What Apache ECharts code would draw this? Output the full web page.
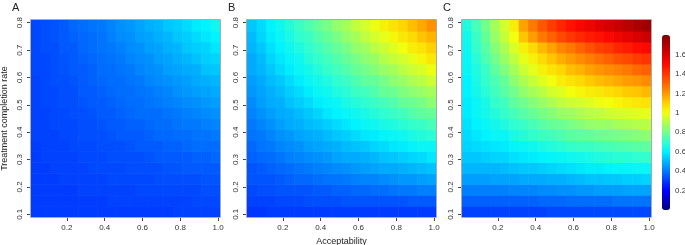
<!DOCTYPE html>
<html>
<head>
<meta charset="utf-8">
<script src="https://cdn.jsdelivr.net/npm/echarts@6/dist/echarts.min.js"></script>
<style>
  html, body { margin: 0; padding: 0; background: #fff; }
  #chart { width: 685px; height: 245px; }
</style>
</head>
<body>
<div id="chart"></div>
<script>
// cell centres (x: acceptability, y: treatment completion rate)
const xCenters = [0.035, 0.085, 0.135, 0.185, 0.235, 0.285, 0.335, 0.385, 0.435, 0.485,
                  0.535, 0.585, 0.635, 0.685, 0.735, 0.785, 0.835, 0.885, 0.935, 0.985];
const yCenters = [0.11, 0.15, 0.19, 0.23, 0.27, 0.31, 0.35, 0.39, 0.43, 0.47,
                  0.51, 0.55, 0.59, 0.63, 0.67, 0.71, 0.75, 0.79];

const xTicks = [0.2, 0.4, 0.6, 0.8, 1.0];
const yTicks = [0.1, 0.2, 0.3, 0.4, 0.5, 0.6, 0.7, 0.8];
const barTicks = [0.2, 0.4, 0.6, 0.8, 1, 1.2, 1.4, 1.6];

// rows from bottom (y = 0.11) to top (y = 0.79)
const panelA = [
  [.30,.30,.30,.30,.30,.30,.30,.30,.30,.30,.30,.30,.30,.30,.30,.31,.31,.31,.31,.31],
  [.30,.30,.30,.30,.30,.30,.30,.30,.31,.31,.31,.31,.31,.31,.31,.31,.31,.32,.32,.32],
  [.30,.30,.30,.30,.30,.31,.31,.31,.31,.31,.31,.32,.32,.32,.32,.32,.32,.32,.33,.33],
  [.30,.30,.30,.31,.31,.31,.31,.31,.32,.32,.32,.32,.32,.33,.33,.33,.33,.33,.34,.34],
  [.30,.30,.31,.31,.31,.31,.32,.32,.32,.32,.33,.33,.33,.33,.34,.34,.35,.35,.35,.35],
  [.30,.31,.31,.31,.31,.32,.32,.32,.33,.33,.33,.33,.34,.35,.35,.35,.35,.36,.36,.37],
  [.30,.31,.31,.31,.32,.32,.32,.33,.33,.33,.34,.35,.35,.35,.36,.36,.37,.38,.38,.38],
  [.31,.31,.31,.32,.32,.33,.33,.33,.34,.35,.35,.35,.36,.37,.37,.38,.38,.39,.39,.40],
  [.31,.31,.32,.32,.32,.33,.33,.34,.35,.35,.36,.36,.37,.38,.38,.39,.40,.40,.41,.42],
  [.31,.31,.32,.32,.33,.33,.34,.35,.35,.36,.37,.38,.38,.38,.39,.40,.41,.42,.43,.44],
  [.31,.32,.32,.33,.33,.34,.35,.35,.36,.37,.38,.38,.39,.40,.41,.42,.43,.44,.45,.46],
  [.31,.32,.32,.33,.33,.35,.35,.36,.37,.38,.38,.39,.40,.41,.42,.44,.45,.46,.47,.48],
  [.31,.32,.33,.33,.34,.35,.36,.37,.38,.38,.39,.40,.42,.43,.44,.45,.46,.48,.49,.50],
  [.32,.32,.33,.34,.35,.35,.36,.38,.38,.39,.40,.42,.43,.44,.46,.47,.48,.49,.52,.53],
  [.32,.32,.33,.34,.35,.36,.37,.38,.39,.40,.42,.43,.44,.46,.47,.49,.50,.52,.54,.55],
  [.32,.33,.33,.35,.35,.37,.38,.39,.40,.41,.43,.44,.46,.47,.49,.50,.53,.54,.55,.58],
  [.32,.33,.34,.35,.36,.37,.38,.39,.41,.43,.44,.46,.47,.49,.50,.53,.54,.56,.58,.60],
  [.32,.33,.34,.35,.37,.38,.39,.40,.42,.44,.45,.47,.49,.50,.53,.54,.56,.59,.60,.63]
];

const panelB = [
  [.29,.29,.30,.30,.30,.30,.30,.30,.30,.30,.30,.30,.30,.30,.30,.30,.30,.30,.30,.30],
  [.31,.31,.31,.32,.32,.32,.33,.33,.33,.33,.34,.34,.34,.34,.34,.34,.34,.35,.35,.35],
  [.32,.33,.33,.34,.34,.34,.34,.35,.35,.36,.36,.37,.37,.38,.38,.39,.40,.40,.41,.41],
  [.34,.34,.34,.35,.36,.37,.37,.38,.39,.39,.40,.41,.42,.42,.43,.44,.45,.45,.46,.47],
  [.34,.35,.36,.37,.38,.39,.40,.41,.42,.43,.44,.45,.46,.47,.48,.48,.49,.50,.51,.52],
  [.36,.37,.38,.39,.41,.42,.43,.44,.45,.47,.48,.48,.49,.50,.52,.53,.54,.55,.56,.58],
  [.37,.39,.40,.42,.43,.44,.46,.47,.48,.49,.51,.52,.53,.55,.56,.58,.59,.61,.62,.62],
  [.39,.40,.42,.44,.45,.47,.48,.49,.51,.53,.54,.56,.58,.59,.61,.62,.63,.65,.67,.68],
  [.40,.42,.44,.46,.48,.49,.51,.52,.54,.56,.58,.60,.62,.63,.65,.66,.68,.70,.71,.73],
  [.42,.44,.46,.48,.49,.51,.53,.55,.58,.60,.62,.63,.65,.67,.69,.71,.72,.75,.77,.78],
  [.43,.46,.48,.49,.52,.54,.56,.59,.61,.62,.65,.67,.69,.71,.73,.75,.78,.79,.81,.84],
  [.45,.47,.49,.51,.54,.56,.59,.62,.63,.66,.68,.71,.72,.75,.78,.79,.82,.84,.86,.88],
  [.46,.48,.51,.53,.56,.59,.62,.64,.66,.69,.71,.74,.77,.78,.81,.84,.86,.89,.91,.94],
  [.48,.50,.53,.56,.59,.62,.64,.67,.70,.72,.75,.78,.80,.83,.86,.88,.91,.94,.96,.99],
  [.48,.51,.55,.58,.61,.63,.67,.70,.72,.75,.78,.81,.84,.86,.90,.93,.95,.98,1.02,1.05],
  [.50,.53,.57,.60,.63,.66,.69,.72,.75,.78,.81,.85,.87,.91,.94,.97,1.00,1.04,1.06,1.10],
  [.51,.55,.59,.62,.65,.69,.71,.75,.78,.81,.85,.88,.92,.95,.98,1.02,1.05,1.08,1.12,1.15],
  [.53,.56,.60,.63,.67,.71,.74,.78,.81,.85,.88,.92,.95,.99,1.03,1.06,1.09,1.13,1.17,1.21]
];

const panelC = [
  [.31,.31,.31,.31,.31,.31,.31,.31,.31,.32,.32,.32,.32,.32,.32,.32,.32,.32,.32,.32],
  [.36,.36,.36,.36,.36,.36,.36,.36,.37,.37,.37,.38,.38,.38,.38,.38,.39,.39,.39,.39],
  [.41,.41,.41,.41,.41,.42,.42,.42,.43,.43,.44,.44,.45,.45,.46,.46,.46,.47,.47,.47],
  [.46,.46,.46,.47,.47,.47,.48,.48,.48,.49,.49,.50,.51,.52,.52,.53,.53,.54,.54,.55],
  [.50,.50,.50,.50,.51,.52,.53,.53,.54,.55,.56,.57,.58,.59,.59,.60,.61,.61,.62,.62],
  [.53,.53,.54,.55,.55,.57,.58,.59,.60,.61,.62,.63,.64,.65,.66,.67,.68,.68,.69,.70],
  [.55,.56,.57,.58,.59,.61,.62,.63,.65,.67,.68,.70,.71,.71,.72,.73,.74,.75,.76,.77],
  [.56,.58,.60,.62,.62,.65,.67,.69,.71,.72,.74,.76,.77,.78,.79,.80,.81,.82,.83,.84],
  [.57,.60,.62,.64,.66,.69,.71,.73,.76,.78,.79,.81,.83,.85,.86,.86,.88,.89,.90,.91],
  [.59,.62,.64,.67,.70,.73,.76,.78,.81,.83,.86,.87,.89,.91,.92,.94,.95,.96,.97,.98],
  [.59,.62,.65,.70,.72,.77,.80,.83,.86,.89,.92,.94,.95,.97,.99,1.00,1.02,1.04,1.05,1.06],
  [.60,.64,.68,.72,.76,.80,.85,.88,.91,.95,.97,1.00,1.02,1.04,1.05,1.07,1.09,1.11,1.12,1.14],
  [.60,.65,.70,.74,.78,.84,.89,.93,.97,1.00,1.04,1.06,1.08,1.11,1.13,1.15,1.17,1.19,1.20,1.22],
  [.62,.66,.71,.77,.82,.88,.94,.98,1.03,1.06,1.09,1.13,1.15,1.18,1.20,1.22,1.24,1.26,1.29,1.31],
  [.62,.68,.74,.80,.86,.92,.98,1.03,1.08,1.12,1.16,1.19,1.22,1.25,1.28,1.31,1.34,1.36,1.39,1.41],
  [.63,.70,.76,.83,.89,.96,1.03,1.08,1.14,1.18,1.23,1.26,1.30,1.34,1.38,1.40,1.44,1.46,1.49,1.51],
  [.64,.71,.78,.86,.93,1.00,1.12,1.19,1.26,1.31,1.36,1.40,1.43,1.46,1.48,1.51,1.54,1.57,1.60,1.63],
  [.66,.73,.80,.88,.95,1.04,1.18,1.26,1.33,1.39,1.44,1.48,1.52,1.55,1.58,1.61,1.64,1.67,1.70,1.73]
];

const rampColors = ['#00007F', '#0000BF', '#0000FF', '#003CFF', '#0079FF', '#00B6FF', '#00F3FF',
                    '#33FFCC', '#72FF8D', '#B2FF4C', '#F2FF0D', '#FFD100', '#FF9600', '#FF6400',
                    '#FF3700', '#FF0900', '#DA0000', '#AD0000', '#7F0000'];

const font = 'Liberation Sans, Arial, sans-serif';
const plotTop = 20, plotW = 189, plotH = 197;
const plotLefts = [31, 247, 462];
const letters = ['A', 'B', 'C'];
const cellW = 0.05, cellH = 0.04;
const barTop = 35, barH = 175;

const toCells = (grid) => {
  const out = [];
  grid.forEach((row, j) => {
    row.forEach((v, i) => out.push([xCenters[i], yCenters[j], v]));
  });
  return out;
};
const panels = [panelA, panelB, panelC];

const renderCell = (params, api) => {
  const x = api.value(0), y = api.value(1);
  const p0 = api.coord([x - cellW / 2, y + cellH / 2]);
  const p1 = api.coord([x + cellW / 2, y - cellH / 2]);
  return {
    type: 'rect',
    shape: { x: p0[0], y: p0[1], width: p1[0] - p0[0] + 0.6, height: p1[1] - p0[1] + 0.6 },
    style: { fill: api.visual('color') }
  };
};

const tickStyle = { color: '#444', width: 1 };

let grids = plotLefts.map(l => ({ left: l, top: plotTop, width: plotW, height: plotH,
                                  outerBoundsMode: 'none' }));
grids.push({ left: 662, top: barTop, width: 8, height: barH, outerBoundsMode: 'none' });

let xAxes = plotLefts.map((l, k) => ({
  gridIndex: k, type: 'value', min: 0.01, max: 1.01,
  splitLine: { show: false }, axisLine: { show: false },
  axisTick: { customValues: xTicks, length: 4, lineStyle: tickStyle },
  axisLabel: { customValues: xTicks, formatter: v => v.toFixed(1),
               fontSize: 8, color: '#333', margin: 7, fontFamily: font },
  name: k === 1 ? 'Acceptability' : '', nameLocation: 'middle', nameGap: 18,
  nameTextStyle: { fontSize: 9, color: '#222', fontFamily: font }
}));
xAxes.push({ gridIndex: 3, type: 'value', show: false, min: 0, max: 1 });

let yAxes = plotLefts.map((l, k) => ({
  gridIndex: k, type: 'value', min: 0.09, max: 0.81,
  splitLine: { show: false }, axisLine: { show: false },
  axisTick: { customValues: yTicks, length: 4, lineStyle: tickStyle },
  axisLabel: { customValues: yTicks, formatter: v => v.toFixed(1), rotate: 90,
               fontSize: 8, color: '#333', margin: 7, fontFamily: font },
  name: k === 0 ? 'Treatment completion rate' : '', nameLocation: 'middle', nameGap: 22,
  nameRotate: 90,
  nameTextStyle: { fontSize: 9, color: '#222', fontFamily: font }
}));
yAxes.push({
  gridIndex: 3, type: 'value', min: 0, max: 1.8, position: 'right',
  splitLine: { show: false }, axisLine: { show: false },
  axisTick: { customValues: barTicks, length: 3, lineStyle: tickStyle },
  axisLabel: { customValues: barTicks, fontSize: 8, color: '#333', margin: 5, fontFamily: font }
});

const series = panels.map((g, k) => ({
  type: 'custom', xAxisIndex: k, yAxisIndex: k,
  renderItem: renderCell, data: toCells(g), silent: true, clip: true
}));

let graphic = [];
plotLefts.forEach((l, k) => {
  graphic.push({
    type: 'rect', z: 100, silent: true,
    shape: { x: l - 0.5, y: plotTop - 0.5, width: plotW + 1, height: plotH + 1 },
    style: { fill: null, stroke: '#aaa', lineWidth: 1 }
  });
  graphic.push({
    type: 'text', left: l - 19, top: 2, z: 100,
    style: { text: letters[k], fontSize: 11, fill: '#222', fontFamily: font }
  });
});

option = {
  animation: false,
  grid: grids,
  xAxis: xAxes,
  yAxis: yAxes,
  visualMap: {
    type: 'continuous', min: 0, max: 1.8, dimension: 2, seriesIndex: [0, 1, 2],
    inRange: { color: rampColors }, calculable: false, realtime: false,
    left: 662, top: barTop, itemWidth: 8, itemHeight: barH, padding: 0,
    text: null, showLabel: false
  },
  graphic: graphic,
  series: series
};

let chart = echarts.init(document.getElementById('chart'));
chart.setOption(option);
window.addEventListener('resize', function () {
  chart.resize();
});
</script>
</body>
</html>
